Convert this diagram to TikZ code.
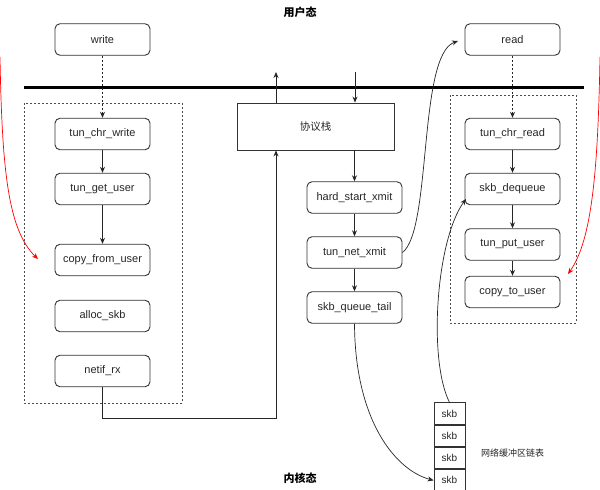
\documentclass[tikz,border=0pt]{standalone}
\usepackage{fontspec}
\setmainfont{Liberation Sans}
\newfontfamily\cjk{Noto Sans CJK SC}
\usetikzlibrary{arrows.meta}
\begin{document}
\begin{tikzpicture}[x=1pt,y=-1pt,
  fn/.style={draw=black!80,text=black!85,rounded corners=5pt,minimum width=95pt,minimum height=31.5pt,font=\fontsize{11}{13}\selectfont,inner sep=0pt,line width=0.9pt},
  arr/.style={-{Stealth[length=6pt,width=5pt]},line width=0.8pt,black!85},
  darr/.style={arr,dash pattern=on 2pt off 2pt},
  grp/.style={draw=black!70,dash pattern=on 2pt off 2pt,line width=0.8pt},
  redc/.style={-{Stealth[length=6pt,width=5pt]},red,line width=0.7pt},
  cell/.style={draw=black!80,text=black!85,minimum width=31pt,minimum height=21.5pt,inner sep=0pt,font=\fontsize{10}{12}\selectfont,line width=0.8pt}]
\useasboundingbox (0,0) rectangle (600,490);
\node[font=\cjk\bfseries\fontsize{11}{13}\selectfont] (ut) at (300,12) {用户态};
\node[font=\cjk\bfseries\fontsize{11}{13}\selectfont] (kt) at (300,478) {内核态};
\coordinate (la) at (24,87); \coordinate (lb) at (584,87);
\draw[line width=3pt] (la) -- (lb);
% groups
\draw[grp] (24,103) rectangle (182,403);
\draw[grp] (450,95) rectangle (576,323);
% left column
\node[fn] (write) at (102.5,39.5) {write};
\node[fn] (tcw) at (102.5,134) {tun\_chr\_write};
\node[fn] (tgu) at (102.5,189) {tun\_get\_user};
\node[fn] (cfu) at (102.5,260) {copy\_from\_user};
\node[fn] (alloc) at (102.5,316) {alloc\_skb};
\node[fn] (netif) at (102.5,371) {netif\_rx};
% middle
\node[draw=black!80,text=black!85,line width=0.9pt,minimum width=157pt,minimum height=47pt,inner sep=0pt,font=\cjk\fontsize{10.5}{13}\selectfont] (stack) at (315.5,126.5) {协议栈};
\node[fn] (hsx) at (354.5,197.5) {hard\_start\_xmit};
\node[fn] (tnx) at (354.5,252.5) {tun\_net\_xmit};
\node[fn] (sqt) at (354.5,307.5) {skb\_queue\_tail};
% right
\node[fn] (read) at (512.5,39.5) {read};
\node[fn] (tcr) at (512.5,134) {tun\_chr\_read};
\node[fn] (sdq) at (512.5,189) {skb\_dequeue};
\node[fn] (tpu) at (512.5,244.5) {tun\_put\_user};
\node[fn] (ctu) at (512.5,292) {copy\_to\_user};
% skb stack
\node[cell] (s1) at (449.5,413.5) {skb};
\node[cell,anchor=north] (s2) at (s1.south) {skb};
\node[cell,anchor=north] (s3) at (s2.south) {skb};
\node[cell,anchor=north] (s4) at (s3.south) {skb};
\node[text=black!85,font=\cjk\fontsize{9}{11}\selectfont] (lbl) at (512.5,453) {网络缓冲区链表};
% connectors
\draw[darr] (write) -- (tcw);
\draw[arr] (tcw) -- (tgu);
\draw[arr] (tgu) -- (cfu);
\coordinate (up1) at (276,72);
\coordinate (dn1) at (355,72);
\draw[arr] (stack.north -| up1) -- (up1);
\draw[arr] (dn1) -- (stack.north -| dn1);
\draw[arr] (netif.south) -- (102.5,418) -- (276,418) -- (stack.south -| up1);
\draw[arr] (stack.south -| hsx) -- (hsx);
\draw[arr] (hsx) -- (tnx);
\draw[arr] (tnx) -- (sqt);
\draw[darr] (read) -- (tcr);
\draw[arr] (tcr) -- (sdq);
\draw[arr] (sdq) -- (tpu);
\draw[arr] (tpu) -- (ctu);
\draw[arr,line width=0.7pt] (tnx.east) .. controls (432,230) and (418,55) .. (458,41);
\draw[arr,line width=0.7pt] (s1.north) .. controls (428,360) and (436,240) .. (466,199);
\draw[arr,line width=0.7pt] (sqt.south) .. controls (355,420) and (395,470) .. (s4.west);
\coordinate (rl) at (0,57); \coordinate (rr) at (600,57);
\draw[redc] (rl) .. controls (2,170) and (8,230) .. (38,259);
\draw[redc] (rr) .. controls (598,170) and (592,240) .. (568,274);
\end{tikzpicture}
\end{document}
